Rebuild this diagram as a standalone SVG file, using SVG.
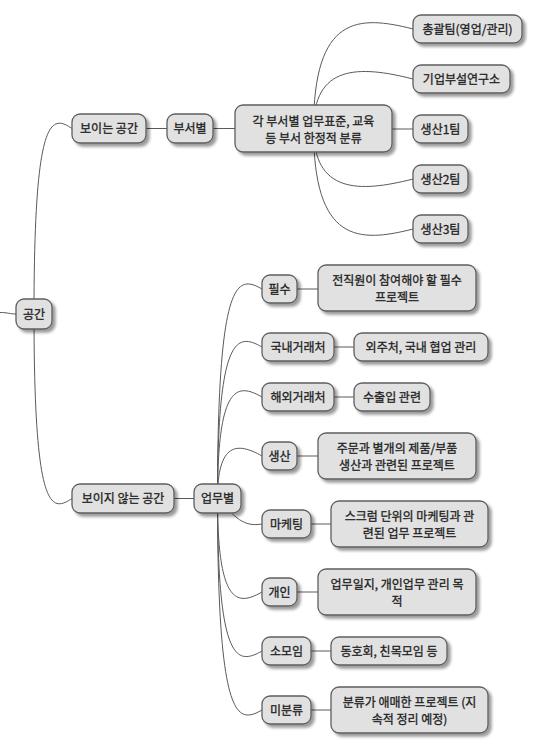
<svg xmlns="http://www.w3.org/2000/svg" width="541" height="741" viewBox="0 0 541 741">
<defs>
<filter id="sh" x="-10%" y="-15%" width="130%" height="150%">
<feGaussianBlur in="SourceAlpha" stdDeviation="1.6"/>
<feOffset dx="3" dy="3" result="o"/>
<feComponentTransfer><feFuncA type="linear" slope="0.4"/></feComponentTransfer>
<feMerge><feMergeNode/><feMergeNode in="SourceGraphic"/></feMerge>
</filter>
</defs>
<style>
.n rect{fill:#E1E1E1;stroke:#5E5E5E;stroke-width:1.3;filter:url(#sh)}
.n text{font-family:"Noto Sans CJK KR","Noto Sans",sans-serif;font-size:12px;fill:#1E1E1E;stroke:#1E1E1E;stroke-width:0.3;text-anchor:middle}
#links path{fill:none;stroke:#5A5A5A;stroke-width:1}
</style>
<rect width="541" height="741" fill="#FFFFFF"/>
<g id="links">
<path d="M0,312.5 C8,312.5 10,314 16,314"/>
<path d="M34,314 C34,114.5 51.1,114.5 72,128.5"/>
<path d="M34,314 C34,512.5 51.1,512.5 72,498.5"/>
<path d="M146,128.5 H167"/>
<path d="M213,128.5 H235"/>
<path d="M313.5,128.5 C313.5,15 358.3,15 413,29"/>
<path d="M313.5,128.5 C313.5,65 358.3,65 413,79"/>
<path d="M392,129 H413"/>
<path d="M313.5,128.5 C313.5,193 358.3,193 413,179"/>
<path d="M313.5,128.5 C313.5,243 358.3,243 413,229"/>
<path d="M174,498.5 H194"/>
<path d="M217.5,498.5 C217.5,275 237.5,275 262,289"/>
<path d="M217.5,498.5 C217.5,333 237.5,333 262,347"/>
<path d="M217.5,498.5 C217.5,383 237.5,383 262,397"/>
<path d="M217.5,498.5 C217.5,442 237.5,442 262,456"/>
<path d="M217.5,498.5 C232,512 240,528 262,524"/>
<path d="M217.5,498.5 C217.5,606 237.5,606 262,592"/>
<path d="M217.5,498.5 C217.5,665 237.5,665 262,651"/>
<path d="M217.5,498.5 C217.5,724 237.5,724 262,710"/>
<path d="M297,289 H318"/>
<path d="M334,347 H354"/>
<path d="M334,397 H354"/>
<path d="M297,456 H318"/>
<path d="M311,524 H331"/>
<path d="M297,592 H318"/>
<path d="M311,651 H331"/>
<path d="M311,710 H331"/>
</g>
<g id="n-root" class="n"><rect x="16" y="299" width="36" height="30" rx="8"/><text x="34" y="318.5">공간</text></g>
<g id="n-visible" class="n"><rect x="72" y="114" width="74" height="29" rx="8"/><text x="109" y="133">보이는 공간</text></g>
<g id="n-dept" class="n"><rect x="167" y="114" width="46" height="29" rx="8"/><text x="190" y="133">부서별</text></g>
<g id="n-dept-desc" class="n"><rect x="235" y="105" width="157" height="47" rx="8"/><text x="313.5" y="125.5">각 부서별 업무표준, 교육</text><text x="313.5" y="142.5">등 부서 한정적 분류</text></g>
<g id="n-general" class="n"><rect x="413" y="15" width="109" height="28" rx="8"/><text x="467.5" y="33.5">총괄팀(영업/관리)</text></g>
<g id="n-lab" class="n"><rect x="413" y="65" width="97" height="28" rx="8"/><text x="461.5" y="83.5">기업부설연구소</text></g>
<g id="n-prod1" class="n"><rect x="413" y="115" width="55" height="28" rx="8"/><text x="440.5" y="133.5">생산1팀</text></g>
<g id="n-prod2" class="n"><rect x="413" y="165" width="55" height="28" rx="8"/><text x="440.5" y="183.5">생산2팀</text></g>
<g id="n-prod3" class="n"><rect x="413" y="215" width="55" height="28" rx="8"/><text x="440.5" y="233.5">생산3팀</text></g>
<g id="n-invisible" class="n"><rect x="72" y="484" width="102" height="29" rx="8"/><text x="123" y="503">보이지 않는 공간</text></g>
<g id="n-work" class="n"><rect x="194" y="484" width="47" height="29" rx="8"/><text x="217.5" y="503">업무별</text></g>
<g id="n-must" class="n"><rect x="262" y="275" width="35" height="28" rx="8"/><text x="279.5" y="293.5">필수</text></g>
<g id="n-must-desc" class="n"><rect x="318" y="265" width="158" height="46" rx="8"/><text x="397" y="284.5">전직원이 참여해야 할 필수</text><text x="397" y="301.5">프로젝트</text></g>
<g id="n-domestic" class="n"><rect x="262" y="333" width="72" height="28" rx="8"/><text x="298" y="351.5">국내거래처</text></g>
<g id="n-domestic-desc" class="n"><rect x="354" y="333" width="134" height="28" rx="8"/><text x="421" y="351.5">외주처, 국내 협업 관리</text></g>
<g id="n-overseas" class="n"><rect x="262" y="383" width="72" height="28" rx="8"/><text x="298" y="401.5">해외거래처</text></g>
<g id="n-overseas-desc" class="n"><rect x="354" y="383" width="76" height="28" rx="8"/><text x="392" y="401.5">수출입 관련</text></g>
<g id="n-production" class="n"><rect x="262" y="442" width="35" height="28" rx="8"/><text x="279.5" y="460.5">생산</text></g>
<g id="n-production-desc" class="n"><rect x="318" y="433" width="158" height="46" rx="8"/><text x="397" y="452.5">주문과 별개의 제품/부품</text><text x="397" y="469.5">생산과 관련된 프로젝트</text></g>
<g id="n-marketing" class="n"><rect x="262" y="510" width="49" height="28" rx="8"/><text x="286.5" y="528.5">마케팅</text></g>
<g id="n-marketing-desc" class="n"><rect x="331" y="501" width="157" height="46" rx="8"/><text x="409.5" y="520.5">스크럼 단위의 마케팅과 관</text><text x="409.5" y="537.5">련된 업무 프로젝트</text></g>
<g id="n-personal" class="n"><rect x="262" y="578" width="35" height="28" rx="8"/><text x="279.5" y="596.5">개인</text></g>
<g id="n-personal-desc" class="n"><rect x="318" y="569" width="158" height="46" rx="8"/><text x="397" y="588.5">업무일지, 개인업무 관리 목</text><text x="397" y="605.5">적</text></g>
<g id="n-club" class="n"><rect x="262" y="637" width="49" height="28" rx="8"/><text x="286.5" y="655.5">소모임</text></g>
<g id="n-club-desc" class="n"><rect x="331" y="637" width="116" height="28" rx="8"/><text x="389" y="655.5">동호회, 친목모임 등</text></g>
<g id="n-misc" class="n"><rect x="262" y="696" width="49" height="28" rx="8"/><text x="286.5" y="714.5">미분류</text></g>
<g id="n-misc-desc" class="n"><rect x="331" y="687" width="157" height="46" rx="8"/><text x="409.5" y="706.5">분류가 애매한 프로젝트 (지</text><text x="409.5" y="723.5">속적 정리 예정)</text></g>
</svg>
